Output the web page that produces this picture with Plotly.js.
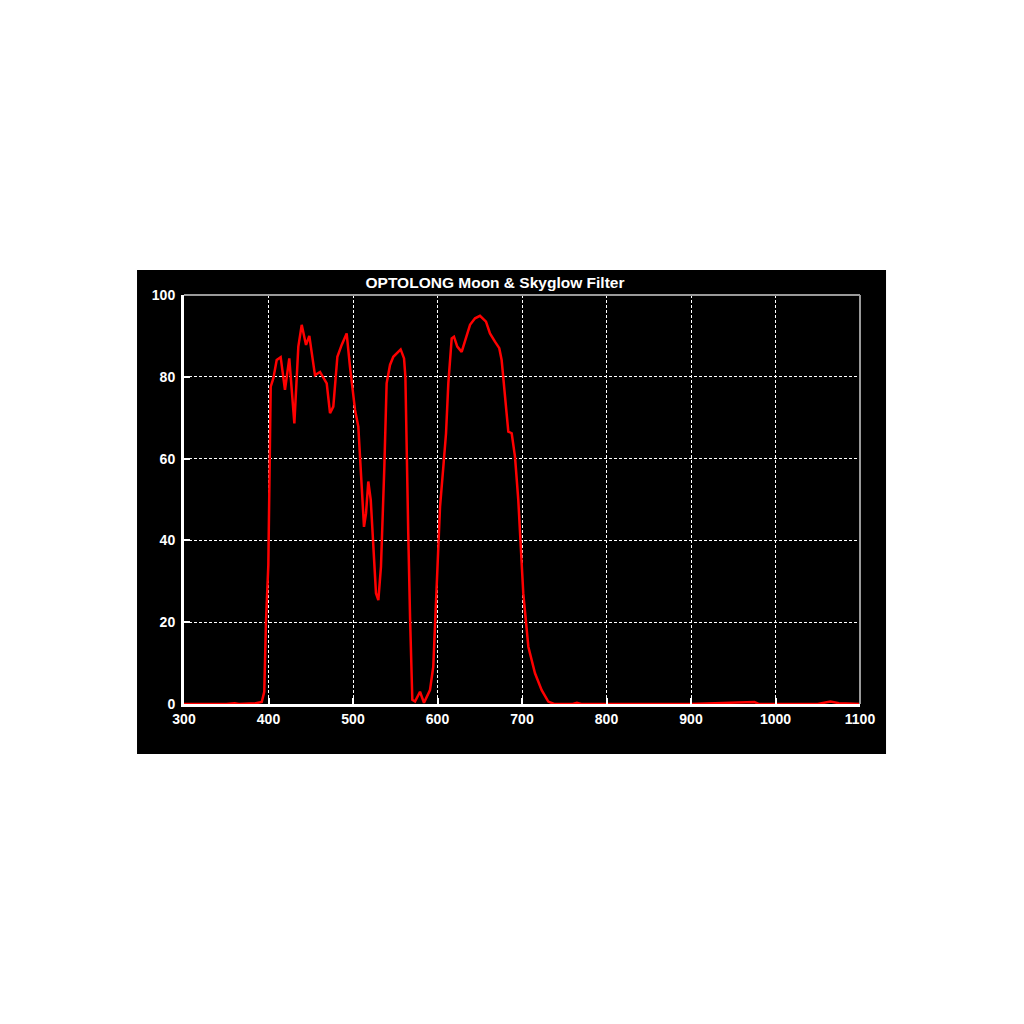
<!DOCTYPE html>
<html>
<head>
<meta charset="utf-8">
<script src="https://cdn.plot.ly/plotly-3.0.1.min.js"></script>
<style>html,body{margin:0;padding:0;background:#fff;}#chart{width:1024px;height:1024px;}</style>
</head>
<body>
<div id="chart"></div>
<script>
const titleText = "OPTOLONG Moon &amp; Skyglow Filter";
const wavelength = [300,350,360,365,385,392,395,397,399.8,401,402.6,405.7,409.7,414.4,419.5,424.6,428.2,430.6,435.3,439.3,444.4,448.3,455,461,468.9,472.8,476.7,481.5,486.6,492.5,496.4,502.4,506.3,510.3,513,515.4,518.1,521,524.1,527.2,530,533.1,537.1,539.8,543.8,547.7,556.4,560.4,562,563.5,565.4,567.5,570.2,573.4,579.3,584,591.1,595,597,599.8,603,606.9,610.1,612.8,616.8,619.5,623.4,628.6,638.5,644.4,650.3,657.4,662.1,668,673.1,675.9,679.9,683.8,687.8,691.7,695.6,698.5,701.5,707.5,715.4,723.3,731.1,738,760,765,770,900,930,975,980,1050,1065,1075,1100];
const transmission = [0,0,0.2,0,0.2,0.5,3,20,34,58,77.6,79.6,84.1,84.8,76.8,84.5,76,68.6,87.4,92.7,87.8,90,80.4,81.2,78.4,71.1,72.7,84.9,87.8,90.6,82.5,71.9,67.8,53.1,43.3,46.6,54.4,49.9,36.8,27.1,25.4,33.6,58,78.4,82.9,84.9,86.7,84.5,80,58,41.7,21.3,1,0.6,3,0.3,3.4,9.1,18.9,33.6,48.2,58,66.2,78.4,89.4,89.8,87.4,86.1,92.7,94.3,94.9,93.5,90.6,88.6,87,84.1,76,66.6,66.2,60.5,49.9,37.7,27.1,14,7.5,3.4,0.6,0,0,0.3,0,0,0.2,0.5,0,0,0.6,0.2,0];
const xTicks = [300,400,500,600,700,800,900,1000,1100];
const yTicks = [0,20,40,60,80,100];

const tickFont = {family:"Liberation Sans, Arial", size:14, color:"#ffffff", weight:"bold"};

const data = [{
  x: wavelength, y: transmission, type:"scatter", mode:"lines",
  line:{color:"#ff0000", width:2.5}, hoverinfo:"skip", showlegend:false
}];

const layout = {
  width:1024, height:1024,
  paper_bgcolor:"#ffffff", plot_bgcolor:"#000000",
  margin:{l:184, r:164, t:295, b:320, pad:0},
  title:{text:"<b>" + titleText + "</b>", font:{family:"Liberation Sans, Arial", size:15.5, color:"#ffffff"},
         xref:"container", yref:"container", x:0.4834, xanchor:"center", y:0.7236, yanchor:"middle"},
  xaxis:{range:[300,1100], tickvals:xTicks, ticktext:xTicks.map(String), showgrid:true,
         gridcolor:"#ffffff", griddash:"3px,2px", gridwidth:1, zeroline:false,
         showline:true, linecolor:"#ffffff", linewidth:3, ticks:"inside", ticklen:6, tickwidth:2, tickcolor:"#ffffff",
         tickfont:tickFont, fixedrange:true},
  yaxis:{range:[0,100], tickvals:yTicks, ticktext:yTicks.map(String), showgrid:true,
         gridcolor:"#ffffff", griddash:"3px,2px", gridwidth:1, zeroline:false,
         showline:true, linecolor:"#ffffff", linewidth:3, ticks:"inside", ticklen:6, tickwidth:2, tickcolor:"#ffffff",
         tickfont:tickFont, ticklabelstandoff:3, fixedrange:true},
  shapes:[
    {type:"rect", xref:"paper", yref:"paper", x0:-0.0695, x1:1.0385, y0:-0.1222, y1:1.0611,
     fillcolor:"#000000", line:{width:0}, layer:"below"},
    {type:"line", xref:"paper", yref:"paper", x0:0, x1:1, y0:1, y1:1, line:{color:"#9a9a9a", width:2}, layer:"above"},
    {type:"line", xref:"paper", yref:"paper", x0:1, x1:1, y0:0, y1:1, line:{color:"#9a9a9a", width:2}, layer:"above"}
  ]
};
Plotly.newPlot("chart", data, layout, {displayModeBar:false, staticPlot:true});
</script>
</body>
</html>
